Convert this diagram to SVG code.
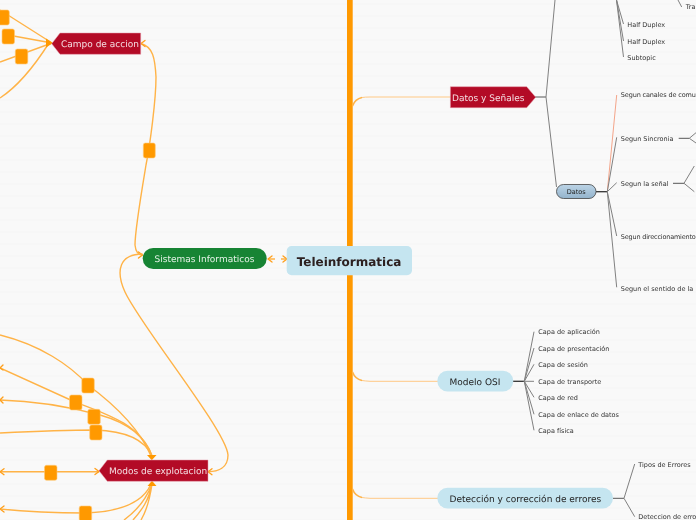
<svg xmlns="http://www.w3.org/2000/svg" width="696" height="520" viewBox="0 0 696 520">
<style>
text{font-family:"DejaVu Sans",Verdana,sans-serif;text-rendering:geometricPrecision}
.n{filter:url(#gr)}
.o{fill:none;stroke:#ffb347;stroke-width:1.4}
.t{fill:none;stroke:#ffc985;stroke-width:1}
.b{fill:none;stroke:#ffb347;stroke-width:1.6}
.a{fill:none;stroke:#ff9f1a;stroke-width:1.3;stroke-linecap:round}
.h{fill:#ff9900}
.g{fill:none;stroke:#808080;stroke-width:1}
.d{fill:none;stroke:#333;stroke-width:1.3}
.e{fill:none;stroke:#555;stroke-width:1}
.s{fill:#333;font-size:6.5px}
.m{fill:#222;font-size:9px}
.w{fill:#f5dfe3;font-size:9px}
.k{fill:#ff9900;stroke:#ffc978;stroke-width:.6}
.r{fill:#b30b26;stroke:#e79aa8;stroke-width:.5}
</style>
<defs>
<filter id="gr" filterUnits="userSpaceOnUse" x="0" y="0" width="696" height="520"><feOffset dx="0" dy="0"/></filter>
<pattern id="st" width="696" height="12" patternUnits="userSpaceOnUse"><rect width="696" height="12" fill="#f9f9f9"/><rect y="3" width="696" height="2" fill="#f7f7f7"/></pattern>
<linearGradient id="bl" x1="0" y1="0" x2="0" y2="1"><stop offset="0" stop-color="#bcd4e6"/><stop offset="1" stop-color="#93b3cc"/></linearGradient>
</defs>
<rect width="696" height="520" fill="url(#st)"/>
<g id="connectors">
<rect x="347" y="0" width="5.700" height="520" fill="#ff9900"/>
<path class="b" d="M352.500 106Q355 99 362 97.500"/><path class="t" d="M362 97.500Q365 97 370 97H451"/>
<path class="b" d="M352.500 372Q355 379 362 380.500"/><path class="t" d="M362 380.500Q365 381 370 381.300H438"/>
<path class="b" d="M352.500 489Q355 496 362 497.500"/><path class="t" d="M362 497.500Q365 498 370 498.300H438"/>
<path class="o" d="M268 259H287" stroke-dasharray="7 6"/>
<path class="a" d="M268 259l4-3M268 259l4 3M287 259l-4-3M287 259l-4 3"/>
<path class="o" d="M141 43.500C153 47 155 58 156 77C156 100 150 145 146 165C141 195 135 230 135 245Q136 255 142.500 255"/>
<path class="a" d="M141 43.500l4-3M141 43.500l4 3"/>
<path class="a" d="M142.500 255l-4-3M142.500 255l-4 3"/>
<path class="o" d="M142.500 254C120 254 115 270 125 292C140 325 226 430 228 455C228 468 218 471.700 208 471.700"/>
<path class="a" d="M208 471.700l4-3M208 471.700l4 3"/>
<path class="o" d="M52 43L0 10M52 43L8 35M52 43L0 62M49 43C35 65 20 85 0 98"/>
<path class="h" d="M53 43l-7-4.500v9z"/>
<path class="o" d="M0 335C40 345 70 365 88 385C115 405 140 430 151 456"/>
<path class="o" d="M0 368L75 402C110 415 140 425 152 456"/>
<path class="o" d="M0 400C40 401 70 407 100 415C125 422 145 435 152 456"/>
<path class="o" d="M0 433C40 431 70 430 95 430C125 431 145 440 152 456"/>
<path class="o" d="M0 471.700H99"/>
<path class="o" d="M0 509C30 512 60 513 85 513C115 512 142 505 151 484"/>
<path class="o" d="M124 520C135 512 146 500 152 484M133 520C142 510 149 500 152 484M141 520C147 510 150 498 152 484"/>
<path class="h" d="M147 455h9.500l-4.700 5.300zM147.500 486h9l-4.500-5.300z"/>
<path class="a" d="M0 368l3-3M0 368l3 2M0 400l3-3M0 400l3 3M0 471.700l4-3M0 471.700l4 3M0 509l4-3M0 509l4 3M99 471.500l-4-3M99 471.500l-4 3"/>
<path class="e" d="M535 97H546"/>
<path class="g" d="M546 97L555 0M546 97L556.500 187"/>
<path class="g" d="M616.500 0L623.500 24M616.500 0L623.500 41M616.500 0L623.500 57"/>
<path class="g" d="M678 0L681.700 7"/>
<path d="M607.300 191.700L616.700 95" fill="none" stroke="#f4a58a"/>
<path class="d" d="M596 191.700H607.300" stroke="#3a2a2a"/>
<path class="g" d="M607.300 191.700L616.700 137.300M607.300 191.700L616.700 182.700M607.300 191.700L616.700 236M607.300 191.700L616.700 287.300"/>
<path class="e" d="M678.700 138.300H689.300"/>
<path class="g" d="M689.300 138.300L696 132.700M689.300 138.300L696 143"/>
<path class="e" d="M673 183.300H684"/>
<path class="g" d="M684 183.300L694.300 166M684 183.300L694.300 191.700"/>
<path class="d" d="M513 381.300H524.300"/>
<path class="g" d="M524.300 381.300L534 331.700M524.300 381.300L534 348M524.300 381.300L534 364.300M524.300 381.300H534M524.300 381.300L534 397.300M524.300 381.300L534 414.300M524.300 381.300L534 430.300"/>
<path class="e" d="M613 498.300H624"/>
<path class="g" d="M624 498.300L634.700 464M624 498.300L634.700 516.700"/>
</g>
<g id="handles">
<rect class="k" x="-2" y="10" width="11.300" height="15" rx="2"/>
<rect class="k" x="2" y="29" width="12.500" height="15" rx="2"/>
<rect class="k" x="15.300" y="49" width="12.500" height="15" rx="2"/>
<rect class="k" x="143.300" y="143" width="12" height="15" rx="2"/>
<rect class="k" x="81.800" y="378" width="12.500" height="15" rx="2"/>
<rect class="k" x="69.500" y="395" width="12.500" height="15" rx="2"/>
<rect class="k" x="87.800" y="409.300" width="12.500" height="15" rx="2"/>
<rect class="k" x="89.700" y="425" width="12.300" height="15" rx="2"/>
<rect class="k" x="44.500" y="465.300" width="12.500" height="15" rx="2"/>
<rect class="k" x="79.200" y="506" width="12.500" height="15" rx="2"/>
</g>
<g id="campo" class="n"><path class="r" d="M140.700 33V54.300H60L51.700 43.700L60 33Z"/><text class="w" x="61" y="47">Campo de accion</text></g>
<g id="sistemas" class="n"><rect x="142.700" y="248" width="124" height="21" rx="10.500" fill="#178434"/><text x="154.500" y="262" font-size="9" fill="#e6f3e8">Sistemas Informaticos</text></g>
<g id="root" class="n"><rect x="286.700" y="246" width="125.300" height="29.300" rx="5" fill="#c5e5f0"/><text x="296.700" y="266" font-size="12" font-weight="bold" fill="#2c2020">Teleinformatica</text></g>
<g id="modos" class="n"><path class="r" d="M208 460V481.300H107.300L99 470.700L107.300 460Z"/><text class="w" x="109" y="474">Modos de explotacion</text></g>
<g id="datos-senales" class="n"><path class="r" d="M450.400 86.700H526.700L535.700 97.200L526.700 107.700H450.400Z"/><text class="w" x="452" y="101">Datos y Señales</text></g>
<g id="datos" class="n"><rect x="556.500" y="184.500" width="39.500" height="14" rx="7" fill="url(#bl)" stroke="#444" stroke-width=".8"/><text x="566.700" y="194" font-size="6.500" fill="#222">Datos</text></g>
<g id="osi" class="n"><rect x="437.300" y="370.700" width="76" height="20.700" rx="10.300" fill="#c5e5f0"/><text class="m" x="449.500" y="385">Modelo OSI</text></g>
<g id="deteccion" class="n"><rect x="437.300" y="487.700" width="175.700" height="20.700" rx="10.300" fill="#c5e5f0"/><text class="m" x="449.500" y="502">Detección y corrección de errores</text></g>
<g id="labels" class="n">
<text class="s" x="685.700" y="9">Tra</text>
<text class="s" x="627.300" y="27">Half Duplex</text>
<text class="s" x="627.300" y="44">Half Duplex</text>
<text class="s" x="627.300" y="60">Subtopic</text>
<text class="s" x="620.800" y="97" textLength="75" lengthAdjust="spacing">Segun canales de comu</text>
<text class="s" x="620.800" y="141">Segun Sincronia</text>
<text class="s" x="620.800" y="186">Segun la señal</text>
<text class="s" x="620.800" y="239" textLength="75" lengthAdjust="spacing">Segun direccionamiento</text>
<text class="s" x="620.800" y="291">Segun el sentido de la</text>
<text class="s" x="538.300" y="334">Capa de aplicación</text>
<text class="s" x="538.300" y="351">Capa de presentación</text>
<text class="s" x="538.300" y="367">Capa de sesión</text>
<text class="s" x="538.300" y="384">Capa de transporte</text>
<text class="s" x="538.300" y="400">Capa de red</text>
<text class="s" x="538.300" y="417">Capa de enlace de datos</text>
<text class="s" x="538.300" y="433">Capa física</text>
<text class="s" x="638.300" y="467">Tipos de Errores</text>
<text class="s" x="638.300" y="519">Deteccion de erro</text>
</g>
</svg>
